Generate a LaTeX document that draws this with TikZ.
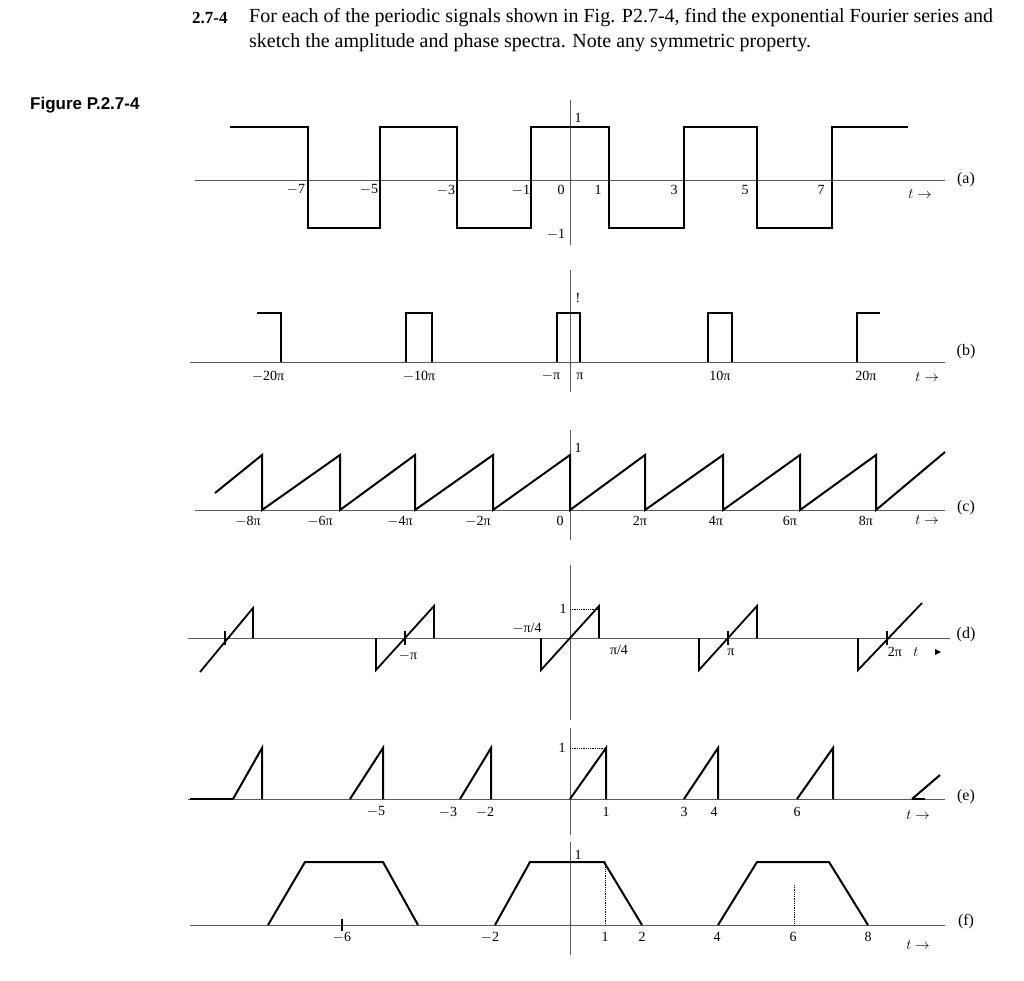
\documentclass[tikz,border=0pt]{standalone}
\usepackage{fontspec}
\setmainfont{Liberation Serif}
\newfontfamily\figsans{Liberation Sans}
\begin{document}
\begin{tikzpicture}[x=1pt,y=-1pt,
  ax/.style={line width=0.8pt,gray!70!black},
  sig/.style={line width=2.3pt,line join=miter},
  lbl/.style={font=\fontsize{14}{14}\selectfont,inner sep=1pt},
  plbl/.style={font=\fontsize{16}{16}\selectfont,inner sep=1pt},
  dots/.style={densely dotted,line width=0.8pt}]
\useasboundingbox[fill=white] (0,0) rectangle (1024,980);
% header
\node[anchor=west,font=\fontsize{17}{17}\selectfont\bfseries,inner sep=0] (num) at (192,18) {2.7-4};
\node[anchor=west,font=\fontsize{20}{20}\selectfont,inner sep=0] (h1) at (249,18) {For each of the periodic signals shown in Fig. P2.7-4, find the exponential Fourier series and};
\node[anchor=west,font=\fontsize{20}{20}\selectfont,inner sep=0] (h2) at (249,43) {sketch the amplitude and phase spectra. Note any symmetric property.};
\node[anchor=west,font=\fontsize{17}{17}\selectfont\figsans\bfseries,inner sep=0] (fig) at (30,105) {Figure P.2.7-4};

% (a)
\draw[ax] (195,180) -- (945,180);
\draw[ax] (570,100) -- (570,245);
\draw[sig,line width=2.8pt] (230,127) -- (308,127) -- (308,228) -- (380,228) -- (380,127) -- (457,127) -- (457,228) -- (531,228) -- (531,127) -- (609,127) -- (609,228) -- (684,228) -- (684,127) -- (757,127) -- (757,228) -- (832,228) -- (832,127) -- (908,127);
\foreach \x/\t in {296/$-$7,369/$-$5,446/$-$3,521/$-$1,561/0,598/1,674/3,745/5,821/7}
  \node[lbl] at (\x,190) {\t};
\node[lbl] (a1) at (578,118) {1};
\node[lbl] (am1) at (556,234) {$-$1};
\node[lbl] (at) at (920,194) {$t\rightarrow$};
\node[plbl] (la) at (966,180) {(a)};

% (b)
\draw[ax] (190,362) -- (945,362);
\draw[ax] (570,270) -- (570,392);
\draw[sig] (257,313) -- (281,313) -- (281,362);
\draw[sig] (406,362) -- (406,313) -- (432,313) -- (432,362);
\draw[sig] (557,362) -- (557,313) -- (580,313) -- (580,362);
\draw[sig] (708,362) -- (708,313) -- (732,313) -- (732,362);
\draw[sig] (857,362) -- (857,313) -- (880,313);
\foreach \x/\t in {268/$-$20π,419/$-$10π,551/$-$π,580/π,720/10π,866/20π}
  \node[lbl] at (\x,376) {\t};
\node[lbl] (b1) at (578,298) {!};
\node[lbl] (bt) at (927,377) {$t\rightarrow$};
\node[plbl] (lb) at (966,352) {(b)};

% (c)
\draw[ax] (195,510) -- (945,510);
\draw[ax] (570,430) -- (570,540);
\draw[sig,line width=2pt] (215,493) -- (262,455) -- (262,510)
  -- (340,455) -- (340,510) -- (415,455) -- (415,510) -- (493,455) -- (493,510)
  -- (570,455) -- (570,510) -- (645,455) -- (645,510) -- (723,455) -- (723,510)
  -- (800,455) -- (800,510) -- (876,455) -- (876,510) -- (945,452);
\foreach \x/\t in {248/$-$8π,320/$-$6π,400/$-$4π,478/$-$2π,560/0,640/2π,716/4π,790/6π,866/8π}
  \node[lbl] at (\x,521) {\t};
\node[lbl] (c1) at (578,448) {1};
\node[lbl] (ct) at (927,520) {$t\rightarrow$};
\node[plbl] (lc) at (966,508) {(c)};

% (d)
\draw[ax] (188,638) -- (950,638);
\draw[ax] (570,565) -- (570,720);
\draw[sig,line width=1.8pt] (200,672) -- (253,608) -- (253,638);
\foreach \c in {405,570,728}
  \draw[sig,line width=1.8pt] (\c-29,638) -- (\c-29,670) -- (\c+29,606) -- (\c+29,638);
\draw[sig,line width=1.8pt] (858,638) -- (858,670) -- (922,603);
\foreach \c in {225,405,728,887}
  \draw[line width=1.2pt] (\c,631) -- (\c,645);
\draw[dots] (570,609) -- (600,609);
\node[lbl] (d1) at (563,609) {1};
\node[lbl] (dm4) at (527,628) {$-$π/4};
\node[lbl] (dp4) at (619,650) {π/4};
\node[lbl] (dmp) at (408,656) {$-$π};
\node[lbl] (dp) at (731,652) {π};
\node[lbl] (d2p) at (895,652) {2π};
\node[lbl] (dt) at (916,652) {$t$};
\fill (935,649) -- (941,652) -- (935,655) -- cycle;
\node[plbl] (ld) at (966,635) {(d)};

% (e)
\draw[ax] (188,799) -- (945,799);
\draw[ax] (570,728) -- (570,835);
\draw[sig,line width=2pt] (190,799) -- (233,799);
\foreach \a/\b in {233/262,350/383,460/491,570/606,684/718,797/833}
  \draw[sig,line width=2pt] (\a,799) -- (\b,748) -- (\b,799);
\draw[sig,line width=2pt] (912,799) -- (940,775);
\draw[sig,line width=2pt] (912,799) -- (925,799);
\draw[dots] (570,748) -- (606,748);
\node[lbl] (e1) at (562,748) {1};
\foreach \x/\t in {376/$-$5,448/$-$3,485/$-$2,606/1,684/3,714/4,797/6}
  \node[lbl] at (\x,812) {\t};
\node[lbl] (et) at (918,815) {$t\rightarrow$};
\node[plbl] (le) at (966,797) {(e)};

% (f)
\draw[ax] (190,925) -- (945,925);
\draw[ax] (570,842) -- (570,955);
\foreach \a/\b/\c/\d in {268/305/383/418,495/530/604/642,718/757/829/868}
  \draw[sig,line width=2pt] (\a,925) -- (\b,862) -- (\c,862) -- (\d,925);
\draw[dots] (605,862) -- (605,925);
\draw[dots] (794,885) -- (794,925);
\draw[line width=1.2pt] (342,919) -- (342,931);
\foreach \x/\t in {342/$-$6,490/$-$2,605/1,642/2,717/4,793/6,868/8}
  \node[lbl] at (\x,937) {\t};
\node[lbl] (f1) at (578,855) {1};
\node[lbl] (ft) at (918,945) {$t\rightarrow$};
\node[plbl] (lf) at (966,922) {(f)};
\end{tikzpicture}
\end{document}
